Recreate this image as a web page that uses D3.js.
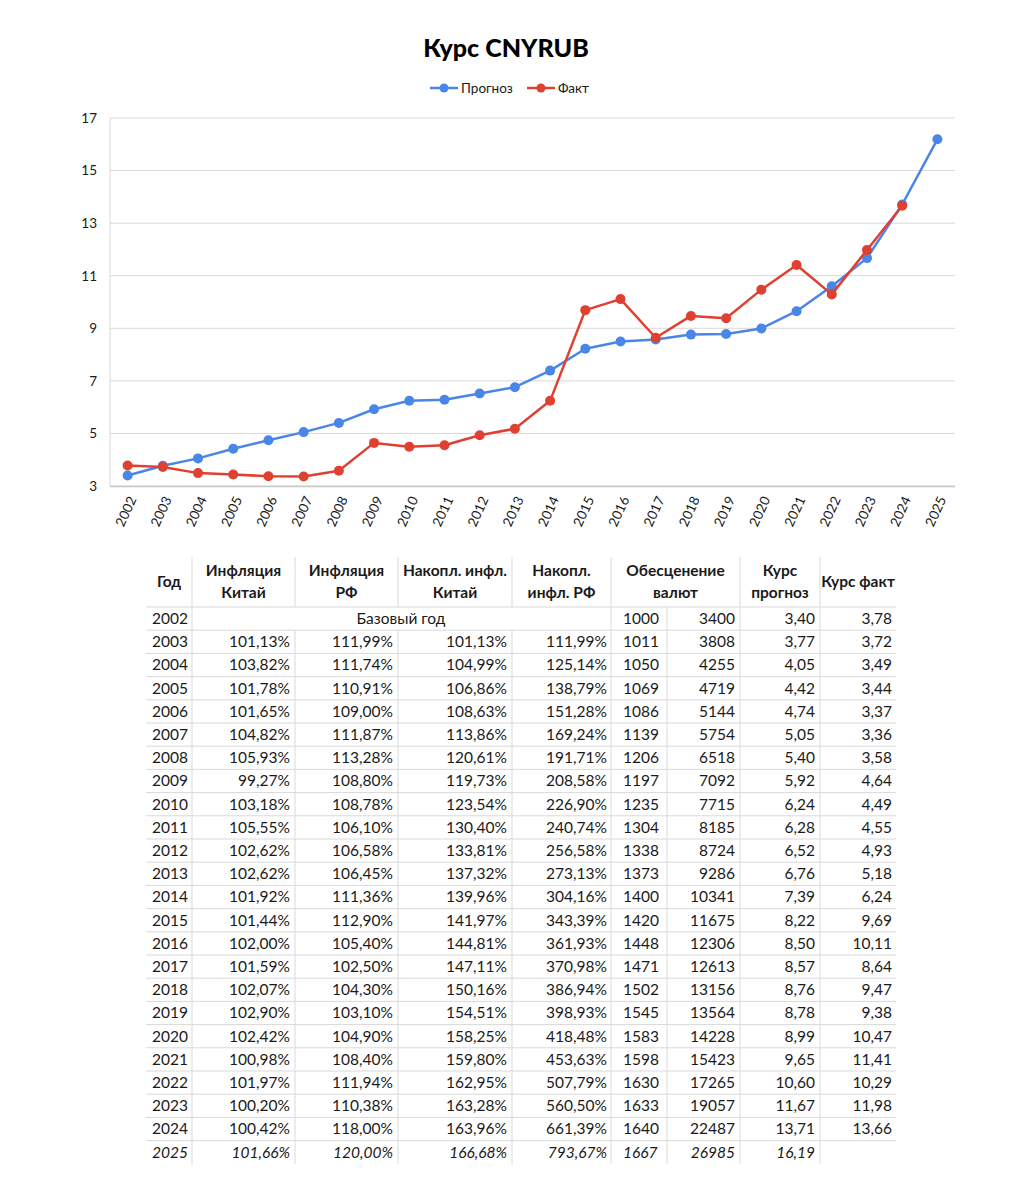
<!DOCTYPE html>
<html><head><meta charset="utf-8">
<script src="https://cdn.jsdelivr.net/npm/d3@7"></script>
<style>body{margin:0;background:#fff}svg{display:block}</style>
</head><body>
<svg id="c" width="1030" height="1200"></svg>
<script>
const years = [2002,2003,2004,2005,2006,2007,2008,2009,2010,2011,2012,2013,2014,2015,2016,2017,2018,2019,2020,2021,2022,2023,2024,2025];
const inflCN = [null,101.13,103.82,101.78,101.65,104.82,105.93,99.27,103.18,105.55,102.62,102.62,101.92,101.44,102.00,101.59,102.07,102.90,102.42,100.98,101.97,100.20,100.42,101.66];
const inflRU = [null,111.99,111.74,110.91,109.00,111.87,113.28,108.80,108.78,106.10,106.58,106.45,111.36,112.90,105.40,102.50,104.30,103.10,104.90,108.40,111.94,110.38,118.00,120.00];
const cumCN = [null,101.13,104.99,106.86,108.63,113.86,120.61,119.73,123.54,130.40,133.81,137.32,139.96,141.97,144.81,147.11,150.16,154.51,158.25,159.80,162.95,163.28,163.96,166.68];
const cumRU = [null,111.99,125.14,138.79,151.28,169.24,191.71,208.58,226.90,240.74,256.58,273.13,304.16,343.39,361.93,370.98,386.94,398.93,418.48,453.63,507.79,560.50,661.39,793.67];
const devCN = [1000,1011,1050,1069,1086,1139,1206,1197,1235,1304,1338,1373,1400,1420,1448,1471,1502,1545,1583,1598,1630,1633,1640,1667];
const devRU = [3400,3808,4255,4719,5144,5754,6518,7092,7715,8185,8724,9286,10341,11675,12306,12613,13156,13564,14228,15423,17265,19057,22487,26985];
const forecast = [3.40,3.77,4.05,4.42,4.74,5.05,5.40,5.92,6.24,6.28,6.52,6.76,7.39,8.22,8.50,8.57,8.76,8.78,8.99,9.65,10.60,11.67,13.71,16.19];
const fact = [3.78,3.72,3.49,3.44,3.37,3.36,3.58,4.64,4.49,4.55,4.93,5.18,6.24,9.69,10.11,8.64,9.47,9.38,10.47,11.41,10.29,11.98,13.66,null];
const yTicks = [3,5,7,9,11,13,15,17];
const seriesNames = ["Прогноз","Факт"];
const headers = [["Год"],["Инфляция","Китай"],["Инфляция","РФ"],["Накопл. инфл.","Китай"],["Накопл.","инфл. РФ"],["Обесценение","валют"],["Курс","прогноз"],["Курс факт"]];
const baseLabel = "Базовый год";

const FONT = "Lato, 'Open Sans', sans-serif";
const BLUE = "#4a86e8", RED = "#e0402f", GRID = "#d9d9d9", TXT = "#1a1a1a";
const svg = d3.select("#c").style("font-family", FONT);

// Title
svg.append("text").attr("x",506).attr("y",57).attr("text-anchor","middle")
  .attr("font-size",25).attr("font-weight",900).attr("fill","#000").text("Курс CNYRUB");

// Legend
const leg = [{n:seriesNames[0],c:BLUE,x:430},{n:seriesNames[1],c:RED,x:527}];
leg.forEach(l=>{
  const g = svg.append("g");
  g.append("line").attr("x1",l.x).attr("x2",l.x+28).attr("y1",88).attr("y2",88).attr("stroke",l.c).attr("stroke-width",2.5);
  g.append("circle").attr("cx",l.x+14).attr("cy",88).attr("r",4.5).attr("fill",l.c);
  g.append("text").attr("x",l.x+31).attr("y",92.5).attr("font-size",13.5).attr("fill",TXT).text(l.n);
});

// Scales
const x = d3.scalePoint().domain(years).range([110,955]).padding(0.5);
const y = d3.scaleLinear().domain([3,17]).range([486,118]);

// Grid
svg.append("g").selectAll("line").data(yTicks).join("line")
  .attr("x1",110).attr("x2",955).attr("y1",d=>y(d)).attr("y2",d=>y(d))
  .attr("stroke",GRID).attr("stroke-width",1);
svg.append("line").attr("x1",110).attr("x2",110).attr("y1",118).attr("y2",486).attr("stroke",GRID);
svg.append("line").attr("x1",110).attr("x2",955).attr("y1",486.5).attr("y2",486.5).attr("stroke","#c8c8c8").attr("stroke-width",1.5);

// Y axis
const yAx = svg.append("g").attr("transform","translate(110,0)")
  .call(d3.axisLeft(y).tickValues(yTicks).tickSize(0).tickPadding(13));
yAx.select(".domain").remove();
yAx.selectAll("text").attr("font-size",13.5).attr("fill",TXT).attr("font-family",FONT);

// X axis
const xAx = svg.append("g").attr("transform","translate(0,486)")
  .call(d3.axisBottom(x).tickSize(0).tickFormat(d3.format("d")));
xAx.select(".domain").remove();
xAx.selectAll("text").attr("font-size",13.5).attr("fill",TXT).attr("font-family",FONT)
  .attr("text-anchor","end").attr("dy",0)
  .attr("transform",d=>`translate(6,12) rotate(-65)`);

// Lines
function drawSeries(vals,color){
  const pts = years.map((yr,i)=>({yr,v:vals[i]})).filter(d=>d.v!=null);
  svg.append("path").datum(pts)
    .attr("d",d3.line().x(d=>x(d.yr)).y(d=>y(d.v)))
    .attr("fill","none").attr("stroke",color).attr("stroke-width",2.5).attr("stroke-linejoin","round");
  svg.append("g").selectAll("circle").data(pts).join("circle")
    .attr("cx",d=>x(d.yr)).attr("cy",d=>y(d.v)).attr("r",5).attr("fill",color);
}
drawSeries(forecast,BLUE);
drawSeries(fact,RED);

// Table
const T = {left:146,right:896,headTop:557,headBot:607,rowH:23.2};
const vx = [192,295,398,512,611,667,740,820];
const tb = svg.append("g").attr("font-size",15.5).attr("fill",TXT);
const nRows = years.length;
for(let i=0;i<nRows;i++){
  const yy = T.headBot + i*T.rowH;
  tb.append("line").attr("x1",T.left).attr("x2",T.right).attr("y1",yy).attr("y2",yy).attr("stroke",GRID);
}
vx.filter(v=>v!==667).forEach(v=>tb.append("line").attr("x1",v).attr("x2",v).attr("y1",T.headTop).attr("y2",T.headBot).attr("stroke",GRID));
for(let i=0;i<nRows;i++){
  const y0 = T.headBot + i*T.rowH, y1 = y0+T.rowH;
  vx.forEach(v=>{
    if(i===0 && v>192 && v<611) return;
    tb.append("line").attr("x1",v).attr("x2",v).attr("y1",y0).attr("y2",y1).attr("stroke",GRID);
  });
}
const hc = [169,243.5,346.5,455,561.5,675.5,780,858];
headers.forEach((h,i)=>{
  const t = tb.append("text").attr("text-anchor","middle").attr("font-weight",700).attr("x",hc[i]);
  if(h.length===1){ t.attr("y",587).text(h[0]); }
  else { t.append("tspan").attr("x",hc[i]).attr("y",576).text(h[0]);
         t.append("tspan").attr("x",hc[i]).attr("y",598).text(h[1]); }
});
const pct = v => v==null?"":d3.format(".2f")(v).replace(".",",")+"%";
const num2 = v => v==null?"":d3.format(".2f")(v).replace(".",",");
years.forEach((yr,i)=>{
  const by = T.headBot + i*T.rowH + 17;
  const g = tb.append("g").attr("font-style", i===nRows-1?"italic":"normal");
  g.append("text").attr("x",152).attr("y",by).text(yr);
  if(i===0){
    g.append("text").attr("x",401).attr("y",by).attr("text-anchor","middle").text(baseLabel);
  } else {
    [[inflCN,290],[inflRU,393],[cumCN,507],[cumRU,607]].forEach(([arr,xx])=>{
      g.append("text").attr("x",xx).attr("y",by).attr("text-anchor","end").text(pct(arr[i]));
    });
  }
  g.append("text").attr("x",623).attr("y",by).text(devCN[i]);
  g.append("text").attr("x",735).attr("y",by).attr("text-anchor","end").text(devRU[i]);
  g.append("text").attr("x",815).attr("y",by).attr("text-anchor","end").text(num2(forecast[i]));
  g.append("text").attr("x",892).attr("y",by).attr("text-anchor","end").text(num2(fact[i]));
});
</script>
</body></html>
